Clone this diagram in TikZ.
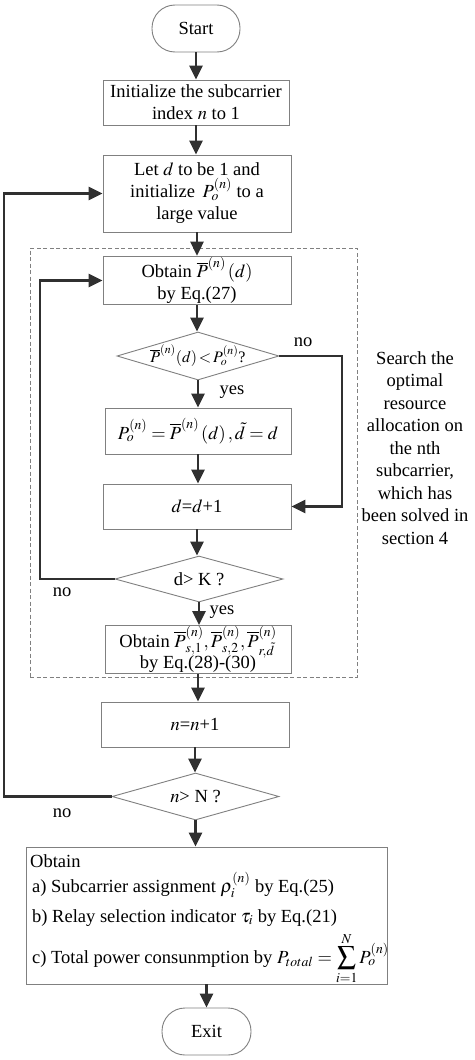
\documentclass[tikz,border=0pt]{standalone}
\usepackage{mathptmx}
\usepackage[no-math]{fontspec}
\setmainfont{Liberation Serif}
\usetikzlibrary{shapes.geometric,arrows.meta}
\definecolor{boxgray}{HTML}{808080}
\definecolor{arrdark}{HTML}{303030}
\newcommand{\fs}{\fontsize{18.5}{22}\selectfont}
\tikzset{
  every node/.style={font=\fs, inner sep=1pt},
  box/.style={draw=boxgray, line width=0.9pt, fill=white, align=center},
  term/.style={draw=boxgray, line width=0.9pt, fill=white, rounded corners=23pt},
  dia/.style={draw=boxgray, line width=0.9pt, fill=white, diamond, inner sep=0pt},
  arr/.style={draw=arrdark, line width=2.6pt, -{Triangle[length=14pt,width=13pt]}},
  lbl/.style={inner sep=0pt},
  grp/.style={draw=boxgray, line width=0.7pt, dash pattern=on 4pt off 2.5pt}
}
\begin{document}
\begin{tikzpicture}[x=1pt,y=-1pt]
\useasboundingbox[fill=white] (0,0) rectangle (474,1060);
\node[grp, minimum width=327, minimum height=429] (group) at (193.5,462.5) {};
\node[term, minimum width=88, minimum height=47] (start) at (196,28.5) {Start};
\node[box, minimum width=186, minimum height=45] (init) at (196,102.5) {Initialize the subcarrier\\index $n$ to 1};
\node[box, minimum width=188, minimum height=77] (let) at (197,193.5) {Let $d$ to be 1 and\\initialize \,$P_o^{(n)}$ to a\\large value};
\node[box, minimum width=188, minimum height=45] (obt) at (197,280.5) {Obtain $\overline{P}^{(n)}\left(d\right)$\\by Eq.(27)};
\node[dia, minimum width=162, minimum height=48] (d1) at (198,356) {};
\node[lbl, font=\fontsize{16}{20}\selectfont] (d1t) at (d1.center) {$\overline{P}^{(n)}\!\left(d\right)\!<\!P_o^{(n)}$?};
\node[box, minimum width=186, minimum height=46] (po) at (198,431) {$P_o^{(n)}=\overline{P}^{(n)}\left(d\right),\tilde{d}=d$};
\node[box, minimum width=188, minimum height=45] (dd) at (197,506.5) {$d$=$d$+1};
\node[dia, minimum width=168, minimum height=46] (d2) at (199,579) {};
\node[lbl] (d2t) at (d2.center) {d> K ?};
\node[box, minimum width=186, minimum height=45] (ps) at (198,649.5) {Obtain $\overline{P}_{s,1}^{(n)},\overline{P}_{s,2}^{(n)},\overline{P}_{r,\tilde d}^{(n)}$\\[-3pt]by Eq.(28)-(30)};
\node[box, minimum width=188, minimum height=45] (nn) at (195,724.5) {$n$=$n$+1};
\node[dia, minimum width=167, minimum height=47] (d3) at (195.5,796.5) {};
\node[lbl] (d3t) at (d3.center) {$n$> N ?};
\node[box, minimum width=361, minimum height=137] (fin) at (206.5,915.5) {};
\node[term, minimum width=89, minimum height=47] (exit) at (206.5,1031.5) {Exit};

\node[lbl, anchor=base west] (t0) at (30,867) {Obtain};
\node[lbl, anchor=base west] (t1) at (32,892) {a) Subcarrier assignment $\rho_i^{(n)}$ by Eq.(25)};
\node[lbl, anchor=base west] (t2) at (32,922) {b) Relay selection indicator $\tau_i$ by Eq.(21)};
\node[lbl, anchor=base west] (t3) at (32,963) {c) Total power consunmption by $P_{total}=\displaystyle\sum_{i=1}^{N}P_o^{(n)}$};

\node[lbl, align=center, font=\fontsize{18.5}{22.5}\selectfont] (note) at (415,448) {Search the\\optimal\\resource\\allocation on\\the nth\\subcarrier,\\which has\\been solved in\\section 4};

\node[lbl] (no1) at (303,342) {no};
\node[lbl] (yes1) at (232,392) {yes};
\node[lbl] (no2) at (62,592) {no};
\node[lbl] (yes2) at (222,612) {yes};
\node[lbl] (no3) at (62,813) {no};

\draw[arr] (start.south) -- (start.south |- init.north);
\draw[arr] (init.south) -- (init.south |- let.north);
\draw[arr] (let.south) -- (let.south |- obt.north);
\draw[arr] (obt.south) -- (obt.south |- d1.north);
\draw[arr] (d1.south) -- (d1.south |- po.north);
\draw[arr] (po.south) -- (po.south |- dd.north);
\draw[arr] (dd.south) -- (dd.south |- d2.north);
\draw[arr] (d2.south) -- (d2.south |- ps.north);
\draw[arr] (ps.south) -- (ps.south |- nn.north);
\draw[arr] (nn.south) -- (nn.south |- d3.north);
\draw[arr] (d3.south) -- (d3.south |- fin.north);
\draw[arr] (fin.south -| exit.north) -- (exit.north);

\draw[arr] (d1.east) -- (342,356) |- (dd.east);
\draw[arr] (d2.west) -- (40,579) |- (obt.west);
\draw[arr] (d3.west) -- (4,796.5) |- (let.west);
\end{tikzpicture}
\end{document}
